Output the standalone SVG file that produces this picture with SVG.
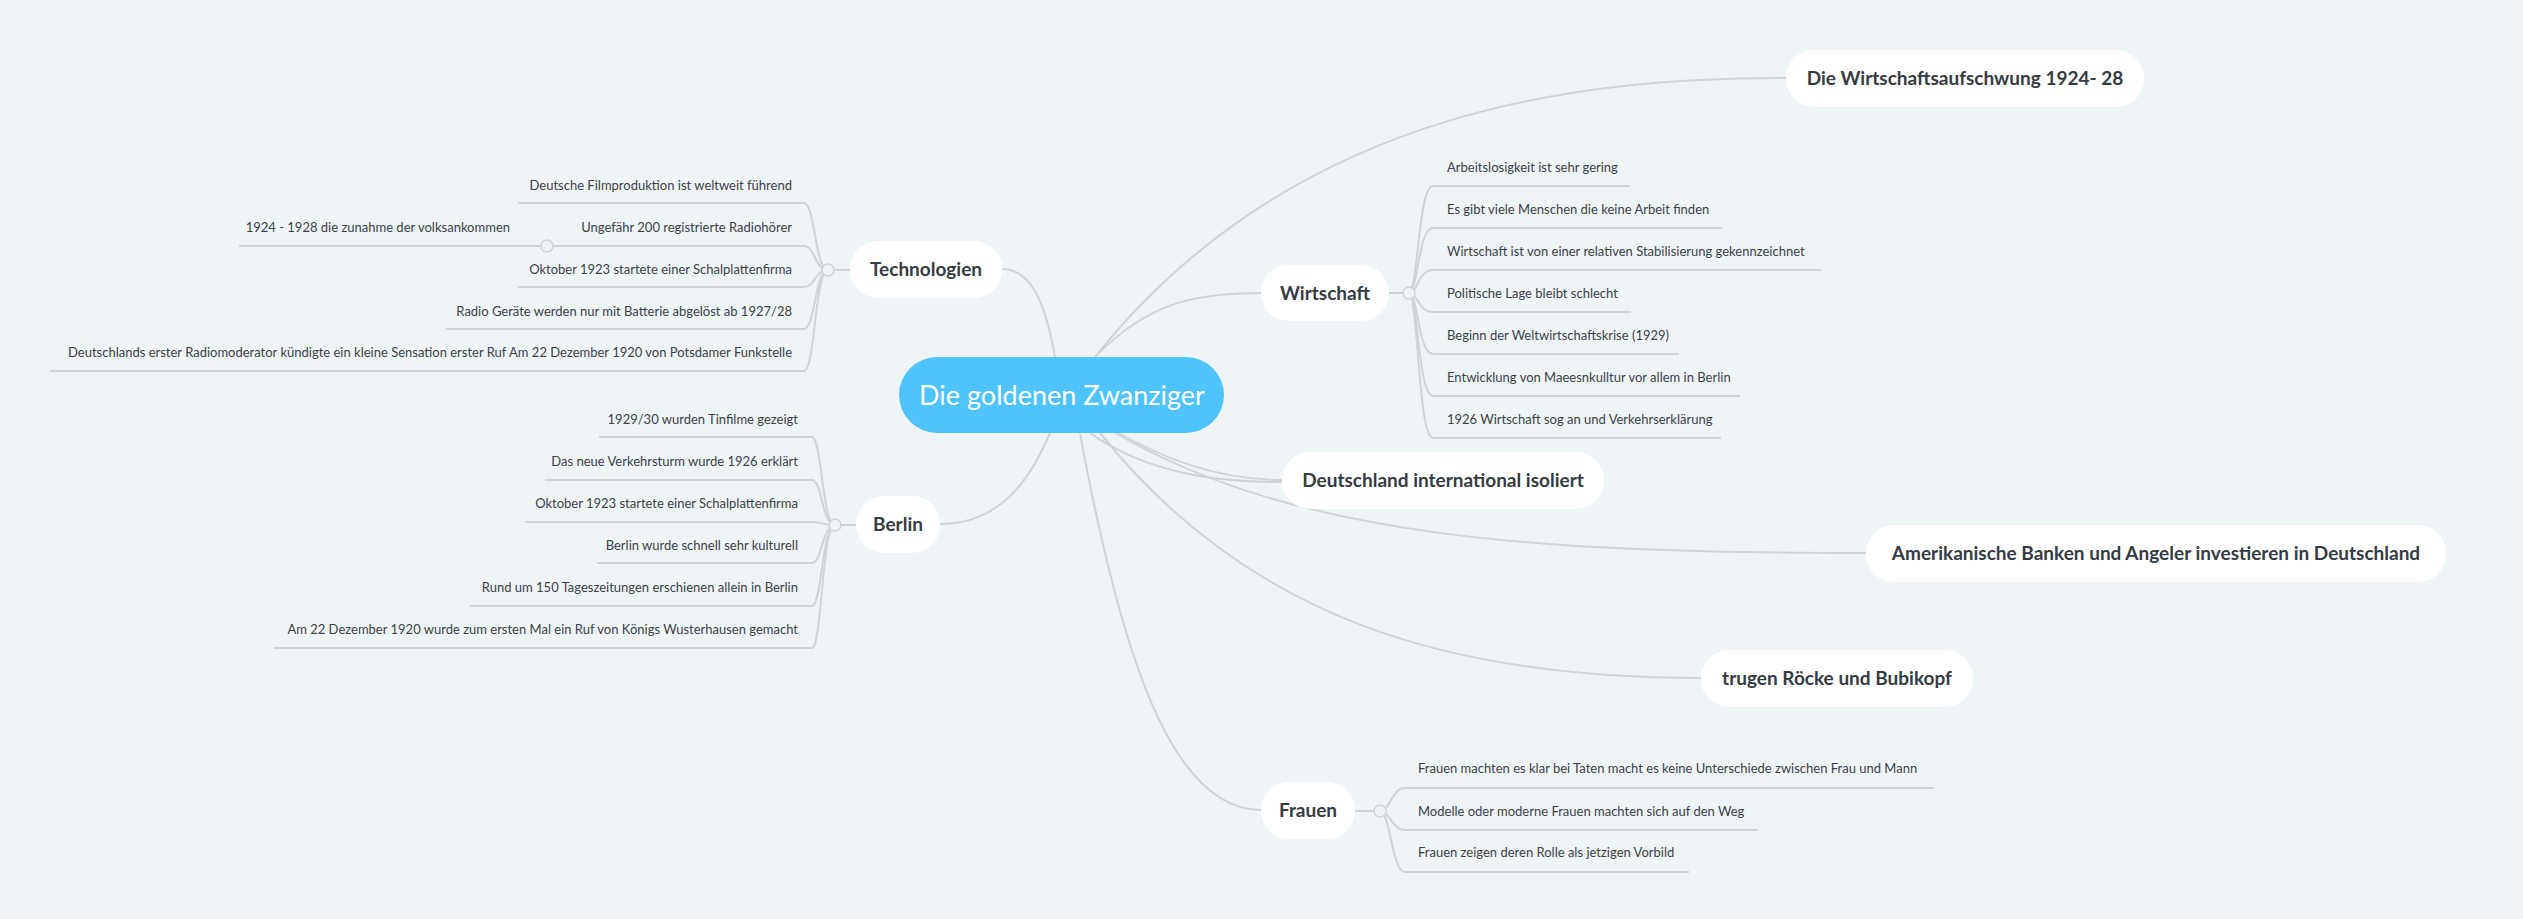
<svg xmlns="http://www.w3.org/2000/svg" width="2523" height="919" viewBox="0 0 2523 919">
<style>
.bg{fill:#eff5f7}
.c{fill:none;stroke:#cfd4d8;stroke-width:2}
.n{fill:#fff}
.m{font-family:Lato,"Open Sans",sans-serif;font-weight:bold;font-size:19px;fill:#353b42}
.l{font-family:Lato,"Open Sans",sans-serif;font-size:13px;fill:#3b4148}
.j{fill:#eff5f7;stroke:#cfd4d8;stroke-width:1.5}
</style>
<rect class="bg" width="2523" height="919"/>
<g id="connectors">
<path class="c" d="M1002,269 C1030,269 1045,300 1055,357"/>
<path class="c" d="M940,524 C1000,524 1030,480 1050,433"/>
<path class="c" d="M1095,357 C1150,300 1200,293 1261,293"/>
<path class="c" d="M1095,357 C1300,100 1600,78 1786,78"/>
<path class="c" d="M1110,428 C1180,470 1240,480 1282,480"/>
<path class="c" d="M1090,433 C1150,475 1220,482 1282,482"/>
<path class="c" d="M1115,433 C1300,540 1550,553 1866,553"/>
<path class="c" d="M1100,433 C1250,620 1450,678 1701,678"/>
<path class="c" d="M1080,433 C1120,650 1170,810 1261,810"/>
<!-- Technologien leaves -->
<path class="c" d="M850,270 H828"/>
<path class="c" d="M828,270 C815,270 815,203 804,203 H518"/>
<path class="c" d="M828,270 C815,270 815,246 804,246 H239"/>
<path class="c" d="M828,270 C815,270 815,287 804,287 H518"/>
<path class="c" d="M828,270 C815,270 815,329 804,329 H446"/>
<path class="c" d="M828,270 C815,270 815,371 804,371 H50"/>
<!-- Berlin leaves -->
<path class="c" d="M856,525 H835"/>
<path class="c" d="M835,525 C822,525 822,437 812,437 H599"/>
<path class="c" d="M835,525 C822,525 822,480 812,480 H545"/>
<path class="c" d="M835,525 C822,525 822,522 812,522 H525"/>
<path class="c" d="M835,525 C822,525 822,563 812,563 H597"/>
<path class="c" d="M835,525 C822,525 822,606 812,606 H470"/>
<path class="c" d="M835,525 C822,525 822,648 812,648 H274"/>
<!-- Wirtschaft leaves -->
<path class="c" d="M1389,293 H1409"/>
<path class="c" d="M1409,293 C1418,293 1418,186 1433,186 H1630"/>
<path class="c" d="M1409,293 C1418,293 1418,228 1433,228 H1722"/>
<path class="c" d="M1409,293 C1418,293 1418,270 1433,270 H1821"/>
<path class="c" d="M1409,293 C1418,293 1418,312 1433,312 H1631"/>
<path class="c" d="M1409,293 C1418,293 1418,354 1433,354 H1679"/>
<path class="c" d="M1409,293 C1418,293 1418,396 1433,396 H1740"/>
<path class="c" d="M1409,293 C1418,293 1418,438 1433,438 H1721"/>
<!-- Frauen leaves -->
<path class="c" d="M1355,811 H1380"/>
<path class="c" d="M1380,811 C1390,811 1392,788 1405,788 H1934"/>
<path class="c" d="M1380,811 C1390,811 1392,830 1405,830 H1758"/>
<path class="c" d="M1380,811 C1390,811 1392,872 1405,872 H1689"/>
<circle class="j" cx="828" cy="270" r="6"/>
<circle class="j" cx="547" cy="246" r="6"/>
<circle class="j" cx="835" cy="525" r="6"/>
<circle class="j" cx="1409" cy="293" r="6"/>
<circle class="j" cx="1380" cy="811" r="6"/>
</g>
<g id="center">
<rect x="899" y="357" width="325" height="76" rx="38" fill="#4fc3fc"/>
<text x="1062" y="405" text-anchor="middle" font-family="Lato,'Open Sans',sans-serif" font-size="27" fill="#fff">Die goldenen Zwanziger</text>
</g>
<g id="technologien"><rect class="n" x="850" y="241" width="152" height="57" rx="28"/><text class="m" x="926" y="276" text-anchor="middle">Technologien</text></g>
<g id="berlin"><rect class="n" x="856" y="496" width="84" height="57" rx="28"/><text class="m" x="898" y="531" text-anchor="middle">Berlin</text></g>
<g id="wirtschaft"><rect class="n" x="1261" y="265" width="128" height="56" rx="28"/><text class="m" x="1325" y="300" text-anchor="middle">Wirtschaft</text></g>
<g id="aufschwung"><rect class="n" x="1786" y="50" width="358" height="57" rx="28"/><text class="m" x="1965" y="85" text-anchor="middle">Die Wirtschaftsaufschwung 1924- 28</text></g>
<g id="isoliert"><rect class="n" x="1282" y="452" width="322" height="57" rx="28"/><text class="m" x="1443" y="487" text-anchor="middle">Deutschland international isoliert</text></g>
<g id="banken"><rect class="n" x="1866" y="525" width="580" height="57" rx="28"/><text class="m" x="2156" y="560" text-anchor="middle">Amerikanische Banken und Angeler investieren in Deutschland</text></g>
<g id="roecke"><rect class="n" x="1701" y="650" width="272" height="57" rx="28"/><text class="m" x="1837" y="685" text-anchor="middle">trugen Röcke und Bubikopf</text></g>
<g id="frauen"><rect class="n" x="1261" y="782" width="94" height="57" rx="28"/><text class="m" x="1308" y="817" text-anchor="middle">Frauen</text></g>
<g id="tech-leaves" class="l" text-anchor="end">
<text class="l" x="792" y="190" text-anchor="end">Deutsche Filmproduktion ist weltweit führend</text>
<text class="l" x="792" y="232" text-anchor="end">Ungefähr 200 registrierte Radiohörer</text>
<text class="l" x="510" y="232" text-anchor="end">1924 - 1928 die zunahme der volksankommen</text>
<text class="l" x="792" y="274" text-anchor="end">Oktober 1923 startete einer Schalplattenfirma</text>
<text class="l" x="792" y="316" text-anchor="end">Radio Geräte werden nur mit Batterie abgelöst ab 1927/28</text>
<text class="l" x="792" y="357" text-anchor="end">Deutschlands erster Radiomoderator kündigte ein kleine Sensation erster Ruf Am 22 Dezember 1920 von Potsdamer Funkstelle</text>
</g>
<g id="berlin-leaves">
<text class="l" x="798" y="424" text-anchor="end">1929/30 wurden Tinfilme gezeigt</text>
<text class="l" x="798" y="466" text-anchor="end">Das neue Verkehrsturm wurde 1926 erklärt</text>
<text class="l" x="798" y="508" text-anchor="end">Oktober 1923 startete einer Schalplattenfirma</text>
<text class="l" x="798" y="550" text-anchor="end">Berlin wurde schnell sehr kulturell</text>
<text class="l" x="798" y="592" text-anchor="end">Rund um 150 Tageszeitungen erschienen allein in Berlin</text>
<text class="l" x="798" y="634" text-anchor="end">Am 22 Dezember 1920 wurde zum ersten Mal ein Ruf von Königs Wusterhausen gemacht</text>
</g>
<g id="wirtschaft-leaves">
<text class="l" x="1447" y="172">Arbeitslosigkeit ist sehr gering</text>
<text class="l" x="1447" y="214">Es gibt viele Menschen die keine Arbeit finden</text>
<text class="l" x="1447" y="256">Wirtschaft ist von einer relativen Stabilisierung gekennzeichnet</text>
<text class="l" x="1447" y="298">Politische Lage bleibt schlecht</text>
<text class="l" x="1447" y="340">Beginn der Weltwirtschaftskrise (1929)</text>
<text class="l" x="1447" y="382">Entwicklung von Maeesnkulltur vor allem in Berlin</text>
<text class="l" x="1447" y="424">1926 Wirtschaft sog an und Verkehrserklärung</text>
</g>
<g id="frauen-leaves">
<text class="l" x="1418" y="773">Frauen machten es klar bei Taten macht es keine Unterschiede zwischen Frau und Mann</text>
<text class="l" x="1418" y="816">Modelle oder moderne Frauen machten sich auf den Weg</text>
<text class="l" x="1418" y="857">Frauen zeigen deren Rolle als jetzigen Vorbild</text>
</g>
</svg>
